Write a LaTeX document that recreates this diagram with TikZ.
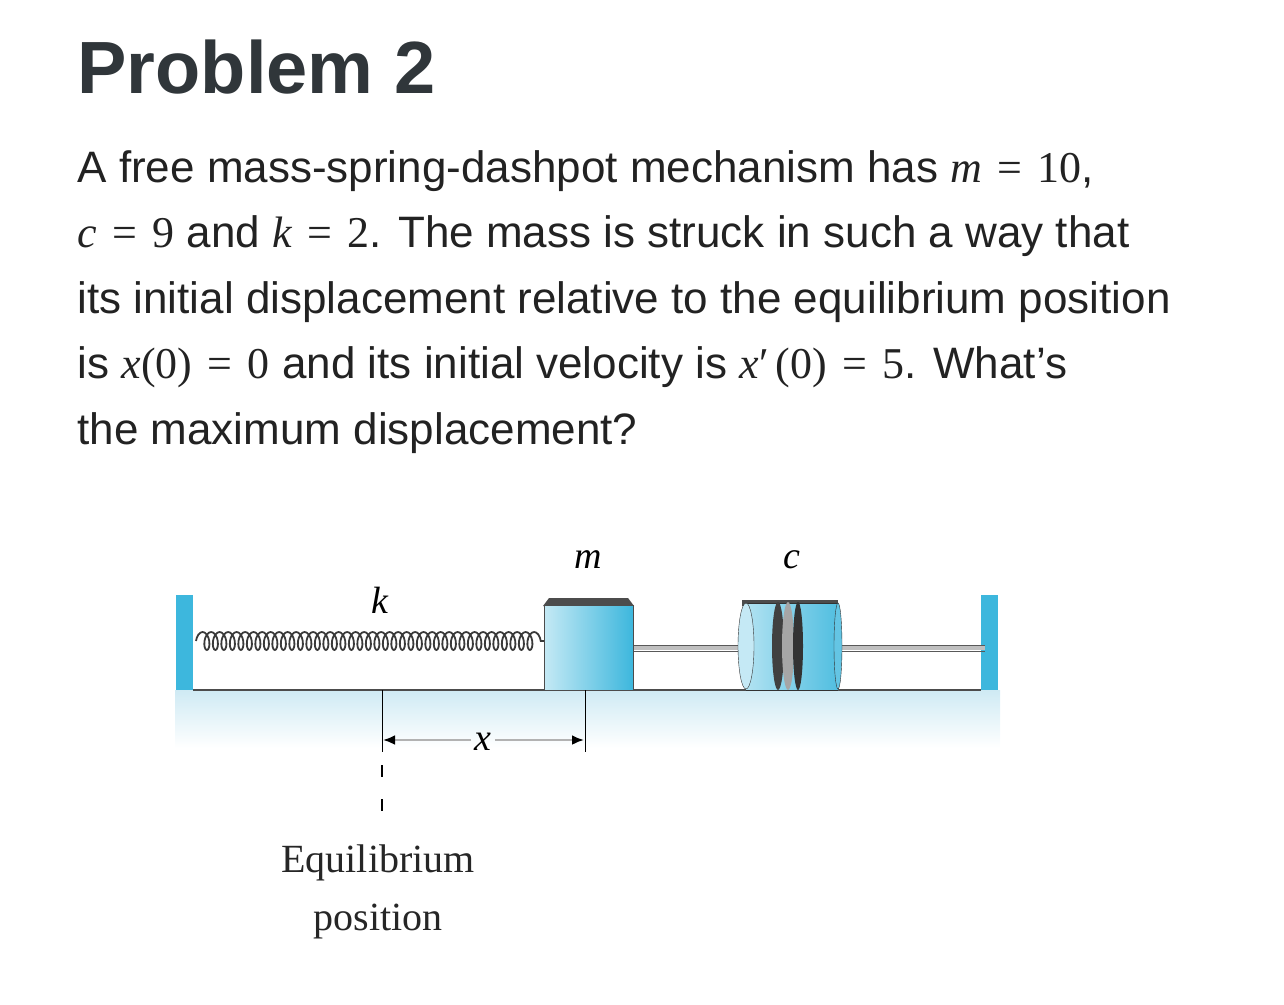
\documentclass[tikz,border=0pt]{standalone}
\usepackage{fontspec}
\setmainfont{Liberation Sans}
\newfontfamily\serif{Liberation Serif}
\newcommand{\vi}[1]{{\serif\itshape #1}}
\newcommand{\vr}[1]{{\serif #1}}
\newcommand{\eqs}{\hspace{0.35em}\vr{=}\hspace{0.35em}}
\usetikzlibrary{decorations.pathmorphing,arrows.meta}
\definecolor{ttl}{HTML}{30363A}
\definecolor{body}{HTML}{222222}
\definecolor{blu}{HTML}{3DB7DD}
\definecolor{lblu}{HTML}{CFEAF4}
\tikzset{
 line/.style={anchor=base west,text=body,font=\fontsize{44}{52}\selectfont},
 fig/.style={font=\fontsize{38}{40}\selectfont},
 wall/.style={fill=blu,draw=none},
}
\begin{document}
\begin{tikzpicture}[x=1pt,y=-1pt]
\useasboundingbox (0,0) rectangle (1284,1004);
\node[anchor=base west,text=ttl,font=\fontsize{74}{80}\selectfont\bfseries] (title) at (74,93) {Problem 2};
\node[line] (l1) at (74,182) {A free mass-spring-dashpot mechanism has \vi{m}\eqs\vr{10},};
\node[line] (l2) at (74,247) {\vi{c}\eqs\vr{9} and \vi{k}\eqs\vr{2}. The mass is struck in such a way that};
\node[line] (l3) at (74,313) {its initial displacement relative to the equilibrium position};
\node[line] (l4) at (74,378) {is \vi{x}\vr{(0)}\eqs\vr{0} and its initial velocity is \vi{x}\vr{′\,(0)}\eqs\vr{5}. What's};
\node[line] (l5) at (74,444) {the maximum displacement?};
% figure
\shade[top color=lblu,bottom color=white] (175,690) rectangle (1000,748);
\fill[wall] (176,595) rectangle (193,690);
\fill[wall] (981,595) rectangle (998,690);
\draw[line width=2pt,gray!60!black] (193,690) -- (981,690);
\draw[line width=1.8pt,gray!45!black,decorate,decoration={coil,amplitude=9pt,segment length=8.5pt}] (196,641) -- (545,641);
\draw[line width=4pt,gray!50] (632,648) -- (985,648);
\draw[line width=1pt,gray!70!black] (632,645) -- (985,645) (632,651) -- (985,651);
% mass
\fill[gray!60!black] (549,598) -- (628,598) -- (634,606) -- (543,606) -- cycle;
\shade[left color=blu!30,right color=blu,draw=gray!60!black] (544,605) rectangle (633,690);
\node (mass) at (588,647) {};
% dashpot
\fill[gray!60!black] (742,600) rectangle (838,606);
\shade[left color=blu!40,right color=blu!90] (746,603) rectangle (838,690);
\draw[gray!40!black] (746,603) -- (838,603) (746,690) -- (838,690);
\draw[gray!40!black,fill=blu!30] (746,646) ellipse (8 and 43);
\draw[gray!40!black,fill=blu!80] (838,646) ellipse (4 and 43);
\fill[gray!50!black] (778,646) ellipse (6 and 44);
\fill[gray!70] (788,646) ellipse (6 and 44);
\fill[gray!40!black] (798,646) ellipse (5 and 44);
\node (dash) at (790,646) {};
% labels
\node[fig] (m) at (588,560) {\vi{m}};
\node[fig] (c) at (792,560) {\vi{c}};
\node[fig] (k) at (380,600) {\vi{k}};
% displacement
\coordinate (e1) at (382,690); \coordinate (e2) at (382,752);
\coordinate (f1) at (585,690); \coordinate (f2) at (585,752);
\draw[line width=1pt] (e1) -- (e2) (f1) -- (f2);
\node[fig] (x) at (483,742) {\vi{x}};
\coordinate (a1) at (383,740); \coordinate (a2) at (584,740);
\draw[line width=2.5pt,gray!60,-{Latex[length=12pt,width=10pt,black]}] (x.west |- a1) -- (a1);
\draw[line width=2.5pt,gray!60,-{Latex[length=12pt,width=10pt,black]}] (x.east |- a2) -- (a2);
\coordinate (d1) at (382,765); \coordinate (d2) at (382,832);
\draw[line width=1.5pt,dash pattern=on 12pt off 22pt] (d1) -- (d2);
\node[align=center,text=black!85,font=\fontsize{40}{58}\selectfont\serif] (eq) at (378,892) {Equilibrium\\position};
\end{tikzpicture}
\end{document}
